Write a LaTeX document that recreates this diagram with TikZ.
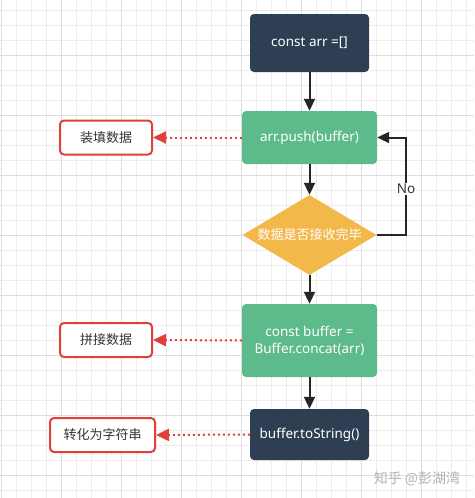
\documentclass[tikz,border=0pt]{standalone}
\usepackage{fontspec}
\setmainfont{Noto Sans}
\newfontfamily\cjk{Noto Sans CJK SC}
\usetikzlibrary{shapes.geometric,arrows.meta}
\definecolor{navy}{HTML}{2F3F53}
\definecolor{grn}{HTML}{5DBA8A}
\definecolor{ylw}{HTML}{F3B84A}
\definecolor{rd}{HTML}{E0403A}
\definecolor{gridminor}{HTML}{ECECEC}
\definecolor{gridmajor}{HTML}{DEDEDE}
\definecolor{txt}{HTML}{333333}
\tikzset{
  box/.style={rectangle, rounded corners=4pt, text=white, align=center, inner sep=2pt,
    font=\fontsize{13.5}{17}\selectfont},
  navybox/.style={box, fill=navy},
  greenbox/.style={box, fill=grn},
  decision/.style={diamond, fill=ylw, text=white, inner sep=0pt, shape aspect=1.675,
    minimum width=134pt, minimum height=80pt, font=\cjk\fontsize{13}{16}\selectfont},
  note/.style={rectangle, rounded corners=4pt, draw=rd, line width=2pt, fill=white,
    text=txt, font=\cjk\fontsize{13}{16}\selectfont, minimum height=34pt},
  flow/.style={line width=2pt, draw=black!85, -{Triangle[length=12pt,width=11pt]}},
  hint/.style={line width=2pt, draw=rd, dash pattern=on 2pt off 3pt,
    -{Triangle[length=13pt,width=12pt,fill=rd]}},
}
\begin{document}
\begin{tikzpicture}[x=1pt,y=-1pt]
\useasboundingbox (0,0) rectangle (474,498);
\fill[white] (0,0) rectangle (474,498);
% grid
\foreach \i in {0,...,31} {
  \pgfmathsetmacro{\xx}{1.7+15*\i}
  \draw[gridminor, line width=0.8pt] (\xx,0) -- (\xx,498);
}
\foreach \i in {0,...,33} {
  \pgfmathsetmacro{\yy}{10+15*\i}
  \draw[gridminor, line width=0.8pt] (0,\yy) -- (474,\yy);
}
\foreach \i in {0,...,7} {
  \pgfmathsetmacro{\xx}{1.7+60*\i}
  \draw[gridmajor, line width=1pt] (\xx,0) -- (\xx,498);
}
\foreach \i in {0,...,8} {
  \pgfmathsetmacro{\yy}{-5+60*\i}
  \draw[gridmajor, line width=1pt] (0,\yy) -- (474,\yy);
}
% main flow
\node[navybox, minimum width=119pt, minimum height=58pt] (arr) at (309.5,43) {const arr =[]};
\node[greenbox, minimum width=135pt, minimum height=53pt] (push) at (309.5,137.5) {arr.push(buffer)};
\node[decision] (dec) at (309.5,235) {数据是否接收完毕};
\node[greenbox, minimum width=135pt, minimum height=73pt] (concat) at (309.5,340.5) {const buffer =\\Buffer.concat(arr)};
\node[navybox, minimum width=119pt, minimum height=51pt] (tostr) at (309.5,434.5) {buffer.toString()};
% notes
\node[note, minimum width=92pt] (fill) at (106,137.5) {装填数据};
\node[note, minimum width=92pt] (join) at (106,340) {拼接数据};
\node[note, minimum width=105pt] (conv) at (102.5,435) {转化为字符串};
% connectors
\draw[flow] (arr) -- (push);
\draw[flow] (push) -- (dec);
\draw[flow] (dec) -- (concat);
\draw[flow] (concat) -- (tostr);
\coordinate (loopc) at (406,235);
\draw[flow] (dec.east) -- (loopc) |- (push.east);
\node[fill=white, inner sep=1pt, font=\fontsize{13.5}{16}\selectfont, text=txt] (no) at (406,189) {No};
\draw[hint] (push.west) -- (fill.east);
\draw[hint] (concat.west) -- (join.east);
\draw[hint] (tostr.west) -- (conv.east);
% watermark
\node[text=black!30, font=\cjk\fontsize{14}{16}\selectfont] (wm) at (417,479) {知乎 @彭湖湾};
\end{tikzpicture}
\end{document}
